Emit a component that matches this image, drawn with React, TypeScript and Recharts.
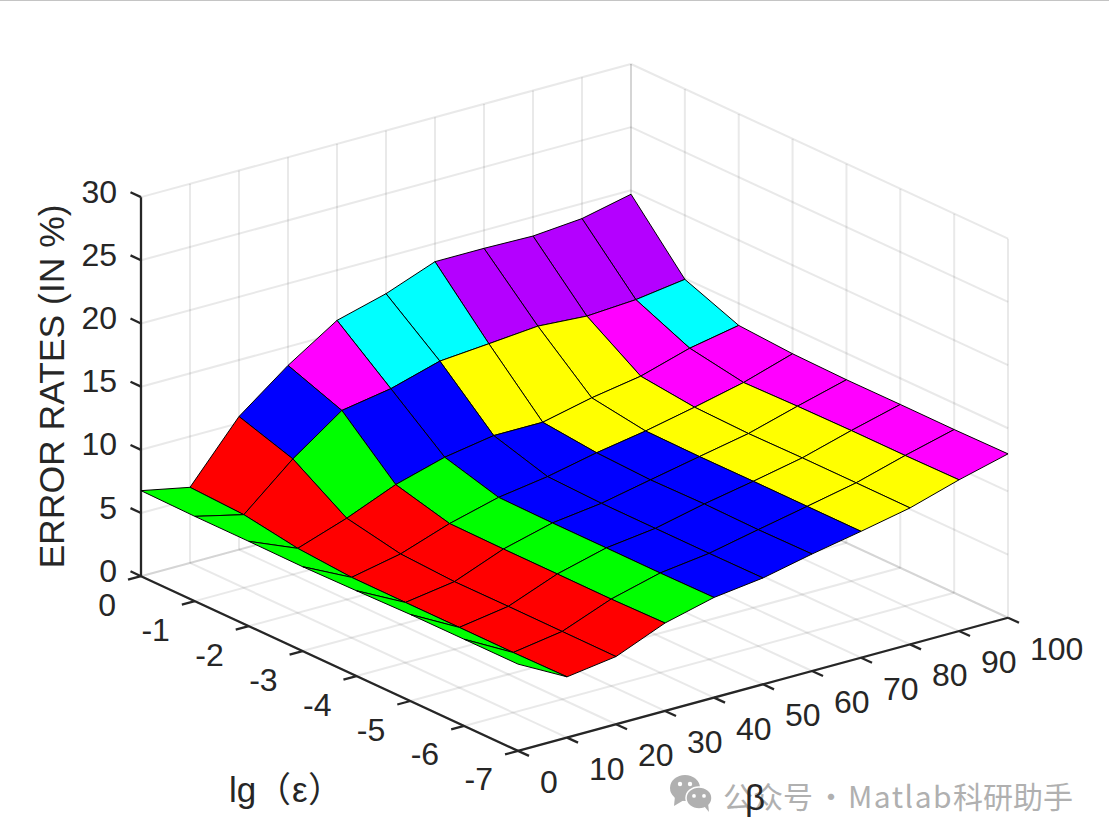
import React from "react"
import { ScatterChart, Scatter, XAxis, YAxis } from "recharts"

const W = 1109
const H = 837

const epsTicks = [0, -1, -2, -3, -4, -5, -6, -7]
const betaTicks = [0, 10, 20, 30, 40, 50, 60, 70, 80, 90, 100]
const zTicks = [0, 5, 10, 15, 20, 25, 30]

// error rate per lg(eps) row, beta = 0..100
const errEps0 = [6.77, 5.98, 10.53, 13.52, 16.03, 17.09, 18.57, 18.57, 18.49, 18.82, 19.69]
const errEps1 = [6.71, 5.79, 9.15, 11.93, 12.6, 13.73, 14.05, 14.39, 14.13, 14.38, 14.93]
const errEps2 = [6.71, 5.1, 6.43, 8.04, 9.15, 9.81, 9.81, 10.69, 11.35, 12.51, 13.26]
const errEps3 = [6.68, 4.78, 5.58, 6.93, 7.95, 8.54, 9.37, 10.04, 10.87, 11.77, 12.99]
const errEps4 = [6.75, 4.77, 5.36, 6.89, 7.9, 8.4, 9.2, 9.99, 10.76, 11.87, 12.91]
const errEps5 = [6.85, 4.77, 5.38, 6.89, 7.9, 8.39, 9.27, 10.01, 10.81, 11.92, 12.93]
const errEps6 = [6.86, 4.76, 5.37, 6.88, 7.89, 8.39, 9.21, 10.0, 10.81, 11.92, 12.92]
const errEps7 = [6.87, 4.81, 5.36, 6.96, 7.93, 8.42, 9.26, 10.0, 10.8, 11.97, 12.97]
const errorRates = [errEps0, errEps1, errEps2, errEps3, errEps4, errEps5, errEps6, errEps7]

const G = "#00ff00"
const R = "#ff0000"
const B = "#0000ff"
const Y = "#ffff00"
const M = "#ff00ff"
const C = "#00ffff"
const P = "#b400ff"

// flat colour of each patch
const faces0 = [G, R, B, M, C, C, P, P, P, P]
const faces1 = [G, R, G, B, B, Y, Y, Y, M, C]
const faces2 = [G, R, R, G, B, B, Y, Y, M, M]
const faces3 = [G, R, R, G, B, B, B, Y, Y, M]
const faces4 = [G, R, R, G, B, B, B, Y, Y, M]
const faces5 = [G, R, R, G, B, B, B, Y, Y, M]
const faces6 = [G, R, R, G, B, B, B, Y, Y, M]
const faceColors = [faces0, faces1, faces2, faces3, faces4, faces5, faces6]

const FONT = "'Liberation Sans', Arial, 'Noto Sans CJK SC', sans-serif"
const INK = "#262626"
const MARK = "#b0b0b0"

// fixed view of the plot box: orthographic az/el like the MATLAB figure
const project = (eps: number, beta: number, z: number) => ({
  x: 141 - eps * 53.86 + beta * 4.9,
  y: 575.5 - eps * 24.93 - beta * 1.33 - z * 12.62,
})
const shift = (p: { x: number; y: number }, dx: number, dy: number) => ({ x: p.x + dx, y: p.y + dy })

type Pt = { x: number; y: number }

const gridLines: Pt[][] = [
  ...epsTicks.map((e) => [project(e, 0, 0), project(e, 100, 0)]),
  ...betaTicks.map((b) => [project(0, b, 0), project(-7, b, 0)]),
  ...zTicks.map((z) => [project(0, 0, z), project(0, 100, z)]),
  ...betaTicks.map((b) => [project(0, b, 0), project(0, b, 30)]),
  ...zTicks.map((z) => [project(0, 100, z), project(-7, 100, z)]),
  ...epsTicks.map((e) => [project(e, 100, 0), project(e, 100, 30)]),
]

const axisLines: Pt[][] = [
  [project(0, 0, 0), project(0, 0, 30)],
  [project(0, 0, 0), project(-7, 0, 0)],
  [project(-7, 0, 0), project(-7, 100, 0)],
  ...zTicks.map((z) => [project(0, 0, z), shift(project(0, 0, z), -10.5, -4.9)]),
  ...epsTicks.map((e) => [project(e, 0, 0), shift(project(e, 0, 0), -13, 3.5)]),
  ...betaTicks.map((b) => [project(-7, b, 0), shift(project(-7, b, 0), 11, 5)]),
]

// far patches first so near ones paint over them
const patches: { pts: Pt[]; fill: string }[] = []
faceColors.forEach((row, i) => {
  for (let j = row.length - 1; j >= 0; j--) {
    const c = (a: number, b: number) => project(epsTicks[a], betaTicks[b], errorRates[a][b])
    patches.push({ pts: [c(i, j), c(i + 1, j), c(i + 1, j + 1), c(i, j + 1)], fill: row[j] })
  }
})

const labels = [
  ...zTicks.map((z) => ({ ...shift(project(0, 0, z), -24, -5.5), label: String(z), anchor: "end", size: 32 })),
  ...epsTicks.map((e) => ({ ...shift(project(e, 0, 0), -25, 28.5), label: String(e), anchor: "end", size: 32 })),
  ...betaTicks.map((b) => ({ ...shift(project(-7, b, 0), 22, 31), label: String(b), anchor: "start", size: 32 })),
]

const renderPatch = (fill: string) => (p: any) => (
  <polygon
    points={p.points.map((q: Pt) => `${q.x},${q.y}`).join(" ")}
    fill={fill}
    stroke="#000"
    strokeWidth={1}
    strokeLinejoin="round"
  />
)

const noDot = () => null

const TickLabel = (p: any) => (
  <text
    x={p.cx}
    y={p.cy}
    textAnchor={p.payload.anchor}
    dominantBaseline="central"
    fontFamily={FONT}
    fontSize={p.payload.size}
    fill={INK}
  >
    {p.payload.label}
  </text>
)

const WeChatMark = (p: any) => (
  <g transform={`translate(${p.cx} ${p.cy})`} fill={MARK}>
    <ellipse cx={-6} cy={-6} rx={15} ry={13} />
    <path d="M-16 2 L-17 12 L-7 6 Z" />
    <ellipse cx={8} cy={4} rx={13} ry={11} stroke="#fff" strokeWidth={1.5} />
    <path d="M13 12 L18 18 L17 9 Z" />
    <circle cx={-11} cy={-10} r={2.2} fill="#fff" />
    <circle cx={-1} cy={-10} r={2.2} fill="#fff" />
    <circle cx={3} cy={2} r={1.9} fill="#fff" />
    <circle cx={13} cy={2} r={1.9} fill="#fff" />
  </g>
)

const Watermark = (p: any) => (
  <text y={p.cy} dominantBaseline="central" fontFamily="'Noto Sans CJK SC', sans-serif" fontSize={30} fill={MARK}>
    <tspan x={p.cx}>公众号</tspan>
    <tspan x={p.cx + 93}>·</tspan>
    <tspan x={p.cx + 125} letterSpacing={1.5}>Matlab</tspan>
    <tspan x={p.cx + 230}>科研助手</tspan>
  </text>
)

const YTitle = (p: any) => (
  <text
    x={p.cx}
    y={p.cy}
    transform={`rotate(-90 ${p.cx} ${p.cy})`}
    textAnchor="middle"
    dominantBaseline="central"
    fontFamily={FONT}
    fontSize={35.5}
    fill={INK}
  >
    ERROR RATES (IN %)
  </text>
)

const EpsTitle = (p: any) => (
  <text y={p.cy} dominantBaseline="central" fontFamily={FONT} fontSize={35} fill={INK}>
    <tspan x={p.cx}>lg</tspan>
    <tspan x={p.cx + 27}>（</tspan>
    <tspan x={p.cx + 63}>ε</tspan>
    <tspan x={p.cx + 79}>）</tspan>
  </text>
)

const BetaTitle = (p: any) => (
  <text x={p.cx} y={p.cy} textAnchor="middle" dominantBaseline="central" fontFamily={FONT} fontSize={35} fill={INK}>
    β
  </text>
)

export default function App() {
  return (
    <div style={{ position: "absolute", left: 0, top: 0, width: W, height: H, borderTop: "1px solid #c4c4c4", boxSizing: "border-box", background: "#fff" }}>
      <ScatterChart width={W} height={H} margin={{ top: -1, right: 0, bottom: 0, left: 0 }}>
        <XAxis type="number" dataKey="x" domain={[0, W]} hide allowDataOverflow />
        <YAxis type="number" dataKey="y" domain={[0, H]} reversed hide allowDataOverflow />
        {gridLines.map((pts, i) => (
          <Scatter key={`g${i}`} data={pts} shape={noDot} isAnimationActive={false} line={{ stroke: INK, strokeOpacity: 0.1, strokeWidth: 2 }} />
        ))}
        {axisLines.map((pts, i) => (
          <Scatter key={`a${i}`} data={pts} shape={noDot} isAnimationActive={false} line={{ stroke: INK, strokeWidth: 2.3 }} />
        ))}
        {patches.map((f, i) => (
          <Scatter key={`p${i}`} data={f.pts} shape={noDot} isAnimationActive={false} line={renderPatch(f.fill)} />
        ))}
        <Scatter data={labels} shape={TickLabel} isAnimationActive={false} />
        <Scatter data={[{ x: 52, y: 386 }]} shape={YTitle} isAnimationActive={false} />
        <Scatter data={[{ x: 229, y: 788 }]} shape={EpsTitle} isAnimationActive={false} />
        <Scatter data={[{ x: 691, y: 793 }]} shape={WeChatMark} isAnimationActive={false} />
        <Scatter data={[{ x: 723, y: 794 }]} shape={Watermark} isAnimationActive={false} />
        <Scatter data={[{ x: 755, y: 797 }]} shape={BetaTitle} isAnimationActive={false} />
      </ScatterChart>
    </div>
  )
}
